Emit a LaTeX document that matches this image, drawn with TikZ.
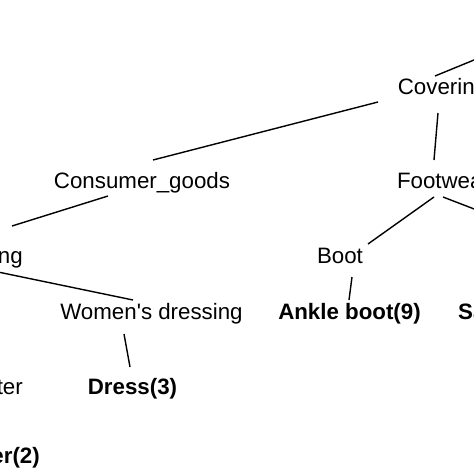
\documentclass[tikz,border=0pt]{standalone}
\usepackage{fontspec}
\setmainfont{Liberation Sans}[Ligatures=TeXOff]
\usepackage{tikz}
\usetikzlibrary{calc}

\tikzset{
  lbl/.style={inner sep=0pt, font=\fontsize{22.3}{26}\selectfont},
  leaf/.style={lbl, font=\fontsize{22.3}{26}\selectfont\bfseries},
  edge/.style={line width=1.4pt, black}
}

\begin{document}
\begin{tikzpicture}[x=1pt,y=1pt]
\useasboundingbox (0,0) rectangle (474,-474);
\clip (0,0) rectangle (474,-474);
\fill[white] (0,0) rectangle (474,-474);

% inner nodes
\node[lbl, anchor=base] (cov) at (442.5,-94) {Covering};
\node[lbl, anchor=base] (cg) at (142,-188) {Consumer\_goods};
\node[lbl, anchor=base] (fw) at (443.5,-188) {Footwear};
\node[lbl, anchor=base east] (clo) at (23,-263) {Clothing};
\node[lbl, anchor=base] (boot) at (340,-263) {Boot};
\node[lbl, anchor=base] (wd) at (151.5,-319) {Women's dressing};
\node[lbl, anchor=base east] (sw) at (23,-394) {Sweater};

% leaves
\node[leaf, anchor=base] (ankle) at (349.5,-319) {Ankle boot(9)};
\node[leaf, anchor=base west] (sand) at (458,-319) {Sandal(5)};
\node[leaf, anchor=base] (dress) at (132.5,-394) {Dress(3)};
\node[leaf, anchor=base east] (pull) at (40,-463) {Pullover(2)};

% parents outside the frame
\coordinate (root) at (630,4);
\coordinate (shoe) at (565,-244);

% edges
\draw[edge] ([shift={(-7.5,18)}]cov.base) -- (root);
\draw[edge] ([shift={(-64.5,-8)}]cov.base) -- ([shift={(11,28)}]cg.base);
\draw[edge] ([shift={(-4.5,-19)}]cov.base) -- ([shift={(-9.5,28)}]fw.base);
\draw[edge] ([shift={(-34,-8)}]cg.base) -- ([shift={(-11,37)}]clo.base east);
\draw[edge] ([shift={(-25,-9)}]clo.base east) -- ([shift={(-18.5,19)}]wd.base);
\draw[edge] ([shift={(-27.5,-15)}]wd.base) -- ([shift={(-2.5,27)}]dress.base);
\draw[edge] ([shift={(-9.5,-9)}]fw.base) -- ([shift={(28,19)}]boot.base);
\draw[edge] ([shift={(-0.5,-9)}]fw.base) -- (shoe);
\draw[edge] ([shift={(12,-14)}]boot.base) -- ([shift={(-0.5,19)}]ankle.base);

\end{tikzpicture}
\end{document}
